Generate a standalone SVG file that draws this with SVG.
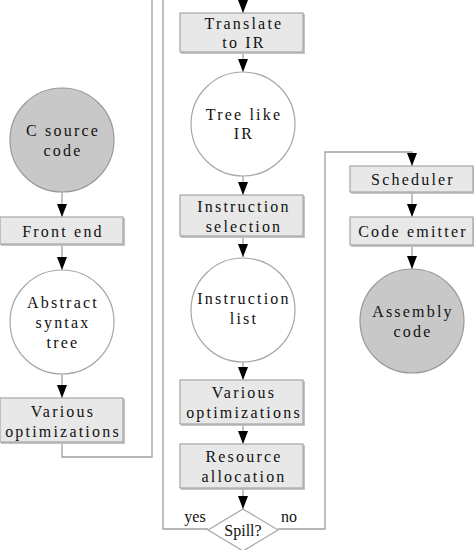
<svg xmlns="http://www.w3.org/2000/svg" width="474" height="550" viewBox="0 0 474 550">
<defs>
<marker id="ah" markerWidth="13" markerHeight="11" refX="13" refY="5" orient="auto" markerUnits="userSpaceOnUse">
<path d="M0,0 L13,5 L0,10 Z" fill="#000"/>
</marker>
<style>
.box{fill:#e8e8e8;stroke:#a6a6a6;stroke-width:1.2}
.sh{fill:#c4c4c4}
.wc{fill:#fff;stroke:#a6a6a6;stroke-width:1.2}
.gc{fill:#c8c8c8;stroke:#999;stroke-width:1.2}
.dia{fill:#fff;stroke:#a6a6a6;stroke-width:1.2}
.t{font-family:"Liberation Serif", "Times New Roman", serif;font-size:16px;letter-spacing:2.2px;fill:#111;text-anchor:middle}
.s{font-family:"Liberation Serif", "Times New Roman", serif;font-size:16px;fill:#111;text-anchor:middle}
.c{fill:none;stroke:#a0a0a0;stroke-width:1.3}
.a{fill:none;stroke:#a0a0a0;stroke-width:1.3;marker-end:url(#ah)}
</style>
</defs>
<rect width="474" height="550" fill="#fff"/>

<g id="connectors">
<line class="a" x1="62" y1="192" x2="62" y2="217"/>
<line class="a" x1="62" y1="245" x2="62" y2="270"/>
<line class="a" x1="62" y1="374" x2="62" y2="398"/>
<polyline class="c" points="62,443 62,457 152,457 152,0"/>
<line class="a" x1="243" y1="0" x2="243" y2="13"/>
<line class="a" x1="243" y1="53" x2="243" y2="72"/>
<line class="a" x1="243" y1="176" x2="243" y2="195"/>
<line class="a" x1="243" y1="237" x2="243" y2="257"/>
<line class="a" x1="243" y1="362" x2="243" y2="380"/>
<line class="a" x1="243" y1="425" x2="243" y2="444"/>
<line class="a" x1="243" y1="489" x2="243" y2="509"/>
<polyline class="c" points="208,529 163,529 163,0"/>
<polyline class="a" points="278,529 325,529 325,152 412,152 412,166"/>
<line class="a" x1="412" y1="193" x2="412" y2="217"/>
<line class="a" x1="412" y1="246" x2="412" y2="269"/>
</g>

<g id="c_source">
<circle class="gc" cx="62" cy="140" r="52"/>
<text class="t" x="63" y="136">C source</text>
<text class="t" x="63" y="156">code</text>
</g>
<g id="front_end">
<rect class="sh" x="1" y="218" width="124" height="28"/>
<rect class="box" x="0" y="217" width="123" height="27"/>
<text class="t" x="63" y="237">Front end</text>
</g>
<g id="ast">
<circle class="wc" cx="62" cy="322" r="52"/>
<text class="t" x="63" y="308">Abstract</text>
<text class="t" x="63" y="328">syntax</text>
<text class="t" x="63" y="348">tree</text>
</g>
<g id="various_left">
<rect class="sh" x="1" y="399" width="124" height="45"/>
<rect class="box" x="0" y="398" width="123" height="44"/>
<text class="t" x="63" y="417">Various</text>
<text class="t" x="63" y="437">optimizations</text>
</g>

<g id="translate">
<rect class="sh" x="181" y="14" width="124" height="40"/>
<rect class="box" x="180" y="13" width="123" height="39"/>
<text class="t" x="244" y="29">Translate</text>
<text class="t" x="244" y="48">to IR</text>
</g>
<g id="tree_ir">
<circle class="wc" cx="243" cy="124" r="52"/>
<text class="t" x="244" y="120">Tree like</text>
<text class="t" x="244" y="139">IR</text>
</g>
<g id="instr_sel">
<rect class="sh" x="181" y="196" width="124" height="42"/>
<rect class="box" x="180" y="195" width="123" height="41"/>
<text class="t" x="244" y="212">Instruction</text>
<text class="t" x="244" y="232">selection</text>
</g>
<g id="instr_list">
<circle class="wc" cx="243" cy="310" r="52"/>
<text class="t" x="244" y="304">Instruction</text>
<text class="t" x="244" y="324">list</text>
</g>
<g id="various_mid">
<rect class="sh" x="181" y="381" width="124" height="45"/>
<rect class="box" x="180" y="380" width="123" height="44"/>
<text class="t" x="244" y="398">Various</text>
<text class="t" x="244" y="418">optimizations</text>
</g>
<g id="resource">
<rect class="sh" x="181" y="445" width="124" height="45"/>
<rect class="box" x="180" y="444" width="123" height="44"/>
<text class="t" x="244" y="462">Resource</text>
<text class="t" x="244" y="482">allocation</text>
</g>
<g id="spill">
<polygon class="dia" points="243,509 278,530 243,551 208,530"/>
<text class="s" x="243" y="536">Spill?</text>
<text class="s" x="195" y="522">yes</text>
<text class="s" x="289" y="522">no</text>
</g>

<g id="scheduler">
<rect class="sh" x="351" y="167" width="124" height="27"/>
<rect class="box" x="350" y="166" width="123" height="26"/>
<text class="t" x="413" y="185">Scheduler</text>
</g>
<g id="code_emitter">
<rect class="sh" x="351" y="218" width="124" height="29"/>
<rect class="box" x="350" y="217" width="123" height="28"/>
<text class="t" x="413" y="237">Code emitter</text>
</g>
<g id="assembly">
<circle class="gc" cx="412" cy="321" r="52"/>
<text class="t" x="413" y="317">Assembly</text>
<text class="t" x="413" y="337">code</text>
</g>
</svg>
